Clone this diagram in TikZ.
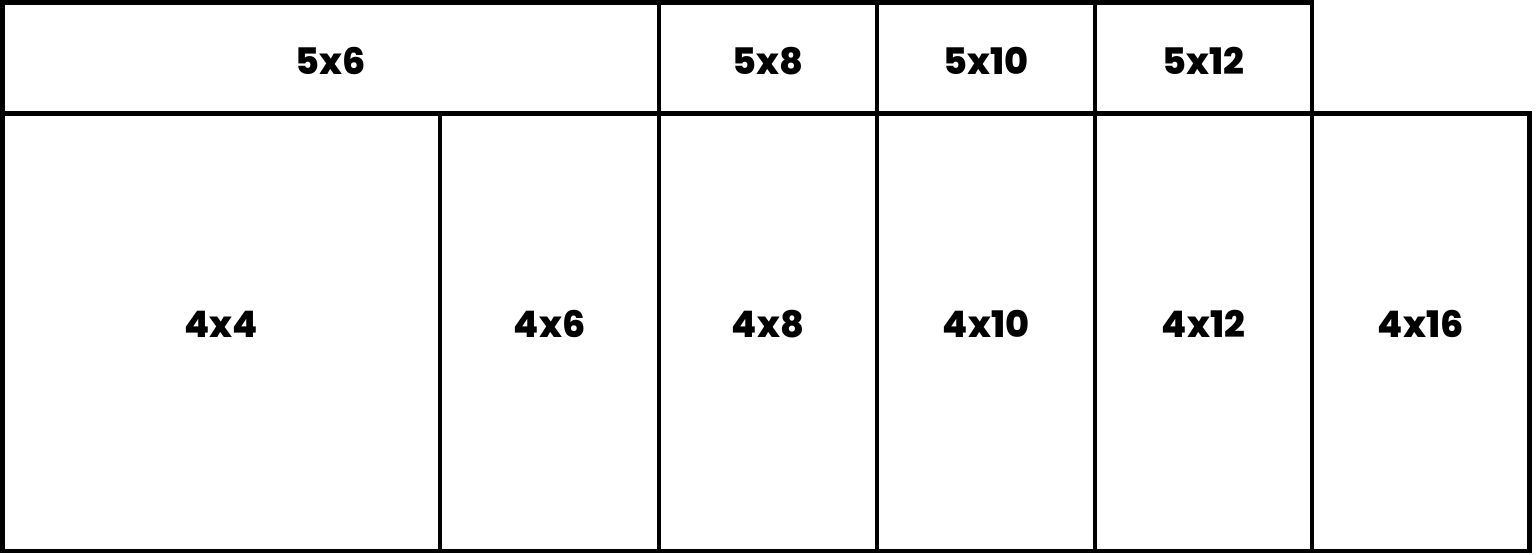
\documentclass[tikz,border=0pt]{standalone}
\usepackage{fontspec}
\newfontfamily\tagfont{Poppins}[BoldFont={Poppins ExtraBold}]
\usetikzlibrary{positioning}

\begin{document}
\begin{tikzpicture}[node distance=0pt,
    cell/.style={draw, line width=0.045cm, inner sep=0pt, outer sep=0pt, minimum height=4.375cm},
    topcell/.style={cell, minimum height=1.11cm},
    tag/.style={font=\tagfont\bfseries\fontsize{10.4}{12}\selectfont, inner sep=0pt}]
    \useasboundingbox (0,0) rectangle (15.36,5.55);

    % Bottom row
    \node[cell, anchor=south west, minimum width=4.375cm] (b44) at (0.025,0.04) {};
    \node[cell, right=of b44, minimum width=2.19cm] (b46) {};
    \node[cell, right=of b46, minimum width=2.18cm] (b48) {};
    \node[cell, right=of b48, minimum width=2.18cm] (b410) {};
    \node[cell, right=of b410, minimum width=2.17cm] (b412) {};
    \node[cell, right=of b412, minimum width=2.175cm] (b416) {};

    % Top row
    \node[topcell, anchor=south west, minimum width=6.565cm] (t56) at (b44.north west) {};
    \node[topcell, above=of b48, minimum width=2.18cm] (t58) {};
    \node[topcell, above=of b410, minimum width=2.18cm] (t510) {};
    \node[topcell, above=of b412, minimum width=2.17cm] (t512) {};

    % Labels
    \node[tag] (l56) at ([yshift=-0.03cm]t56.center) {5x6};
    \node[tag] (l58) at ([yshift=-0.03cm]t58.center) {5x8};
    \node[tag] (l510) at ([yshift=-0.03cm]t510.center) {5x10};
    \node[tag] (l512) at ([yshift=-0.03cm]t512.center) {5x12};
    \node[tag] (l44) at ([yshift=0.08cm]b44.center) {4x4};
    \node[tag] (l46) at ([yshift=0.08cm]b46.center) {4x6};
    \node[tag] (l48) at ([yshift=0.08cm]b48.center) {4x8};
    \node[tag] (l410) at ([yshift=0.08cm]b410.center) {4x10};
    \node[tag] (l412) at ([yshift=0.08cm]b412.center) {4x12};
    \node[tag] (l416) at ([yshift=0.08cm]b416.center) {4x16};
\end{tikzpicture}
\end{document}
